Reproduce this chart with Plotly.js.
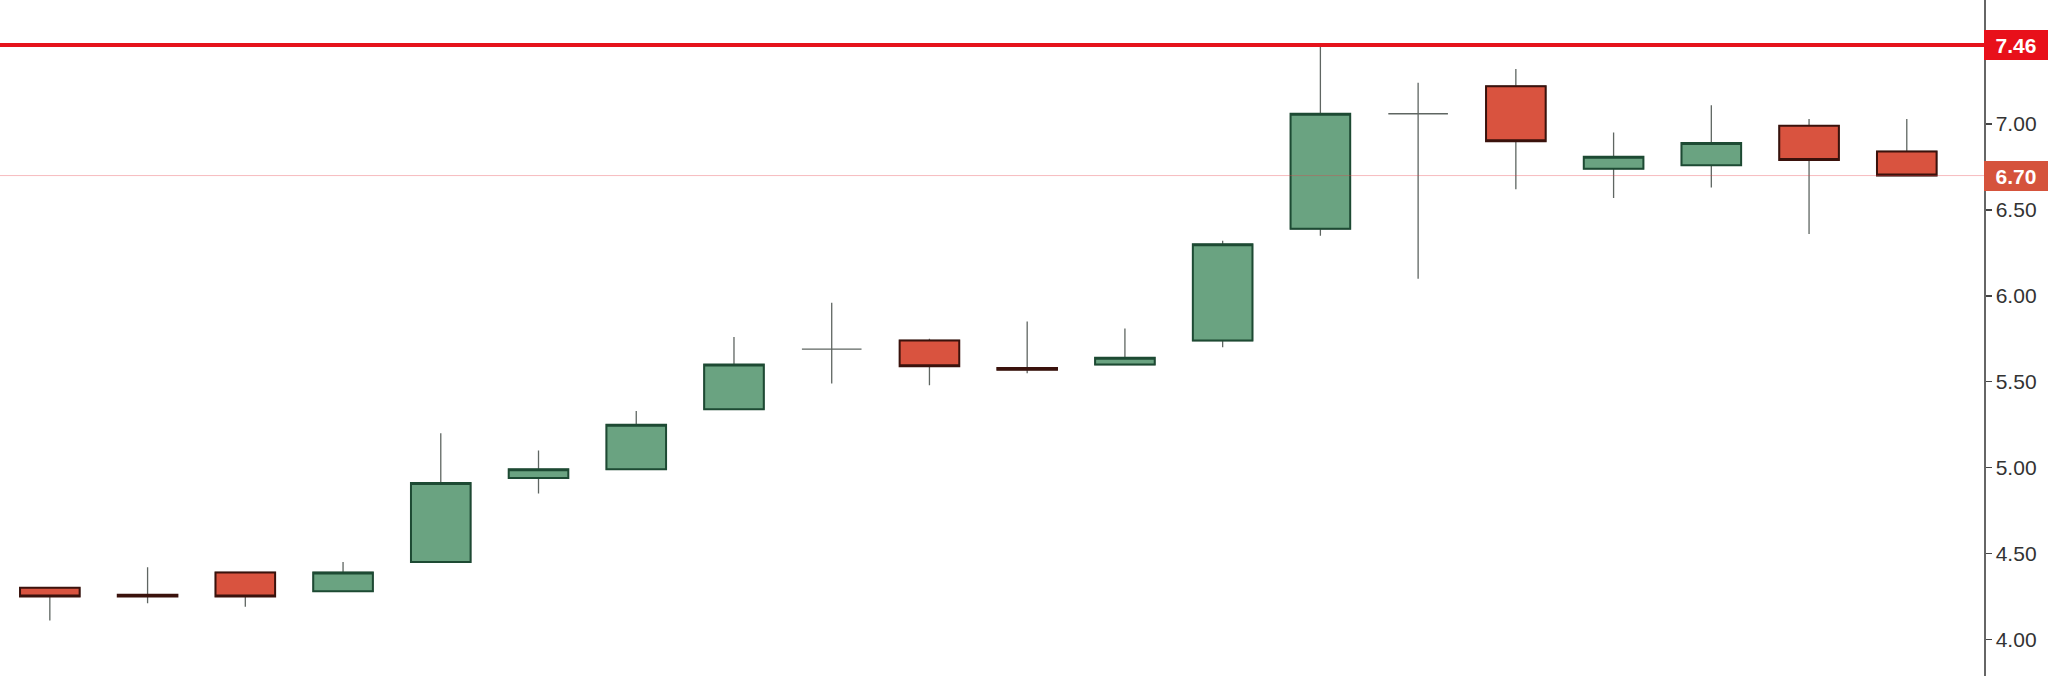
<!DOCTYPE html>
<html>
<head>
<meta charset="utf-8">
<script src="https://cdn.plot.ly/plotly-3.0.1.min.js"></script>
<style>
  html, body { margin: 0; padding: 0; background: #fff; }
  #chart { width: 2048px; height: 676px; }
</style>
</head>
<body>
<div id="chart"></div>
<script>
// session candles
const sessions = [0, 1, 2, 3, 4, 5, 6, 7, 8, 9, 10, 11, 12, 13, 14, 15, 16, 17, 18, 19];
const opens  = [4.30, 4.26, 4.39, 4.28, 4.45, 4.94, 4.99, 5.34, 5.69, 5.74, 5.58, 5.60, 5.74, 6.39, 7.06, 7.22, 6.74, 6.76, 6.99, 6.84];
const highs  = [4.30, 4.42, 4.39, 4.45, 5.20, 5.10, 5.33, 5.76, 5.96, 5.75, 5.85, 5.81, 6.32, 7.46, 7.24, 7.32, 6.95, 7.11, 7.03, 7.03];
const lows   = [4.11, 4.21, 4.19, 4.28, 4.45, 4.85, 4.99, 5.34, 5.49, 5.48, 5.55, 5.60, 5.70, 6.35, 6.10, 6.62, 6.57, 6.63, 6.36, 6.70];
const closes = [4.25, 4.25, 4.25, 4.39, 4.91, 4.99, 5.25, 5.60, 5.69, 5.59, 5.57, 5.64, 6.30, 7.06, 7.06, 6.90, 6.81, 6.89, 6.79, 6.70];

// price ticks on the right axis (7.50 sits under the top price tag)
const priceTicks = [4.00, 4.50, 5.00, 5.50, 6.00, 6.50, 7.00];

const topPrice = Math.max(...highs);
const lastPrice = closes[closes.length - 1];

const upFill = '#6aa381';
const downFill = '#d9533f';

// bodies only (no wicks), so the outline can be darker than the wicks
const bodyHigh = opens.map((o, i) => o === closes[i] ? null : Math.max(o, closes[i]));
const bodyLow = opens.map((o, i) => o === closes[i] ? null : Math.min(o, closes[i]));

var data = [
  {
    type: 'candlestick',
    x: sessions, open: opens, high: highs, low: lows, close: closes,
    increasing: { line: { color: '#5f6662', width: 1.3 }, fillcolor: upFill },
    decreasing: { line: { color: '#5f6662', width: 1.3 }, fillcolor: downFill },
    hoverinfo: 'none'
  },
  {
    type: 'candlestick',
    x: sessions,
    open: opens.map((o, i) => o === closes[i] ? null : o),
    high: bodyHigh, low: bodyLow,
    close: closes.map((c, i) => c === opens[i] ? null : c),
    increasing: { line: { color: '#1d4a33', width: 2 }, fillcolor: upFill },
    decreasing: { line: { color: '#3a120c', width: 2 }, fillcolor: downFill },
    hoverinfo: 'none'
  }
];

var layout = {
  width: 2048, height: 676,
  margin: { l: 0, r: 64, t: 0, b: 0 },
  paper_bgcolor: '#fff', plot_bgcolor: '#fff',
  showlegend: false,
  boxmode: 'overlay',
  boxgap: 0.39,
  boxgroupgap: 0,
  font: { family: 'Liberation Sans, Arial, sans-serif', size: 21, color: '#333' },
  xaxis: {
    visible: false,
    range: [-0.51, 19.79],
    rangeslider: { visible: false },
    fixedrange: true
  },
  yaxis: {
    side: 'right',
    range: [3.787, 7.722],
    tickmode: 'array',
    tickvals: priceTicks,
    ticktext: priceTicks.map(v => v.toFixed(2)),
    ticks: 'outside', ticklen: 6, tickwidth: 1.5, tickcolor: '#444',
    showline: true, linecolor: '#666', linewidth: 1.5,
    showgrid: false, zeroline: false,
    tickfont: { size: 21, color: '#333' },
    fixedrange: true
  },
  shapes: [
    { type: 'line', xref: 'paper', x0: 0, x1: 1, yref: 'y', y0: topPrice, y1: topPrice,
      line: { color: '#e5131c', width: 4 } },
    { type: 'line', xref: 'paper', x0: 0, x1: 1, yref: 'y', y0: lastPrice, y1: lastPrice,
      line: { color: 'rgba(230,60,70,0.35)', width: 1 } }
  ],
  annotations: [
    { xref: 'paper', x: 1, xanchor: 'left', yref: 'y', y: topPrice, yanchor: 'middle',
      text: topPrice.toFixed(2), showarrow: false, bgcolor: '#e8101a',
      width: 62, height: 28, borderpad: 1, borderwidth: 0,
      font: { color: '#fff', size: 21, weight: 'bold' } },
    { xref: 'paper', x: 1, xanchor: 'left', yref: 'y', y: lastPrice, yanchor: 'middle',
      text: lastPrice.toFixed(2), showarrow: false, bgcolor: '#d5533c',
      width: 62, height: 28, borderpad: 1, borderwidth: 0,
      font: { color: '#fff', size: 21, weight: 'bold' } }
  ]
};

Plotly.newPlot('chart', data, layout, { displayModeBar: false, staticPlot: true });
</script>
</body>
</html>
